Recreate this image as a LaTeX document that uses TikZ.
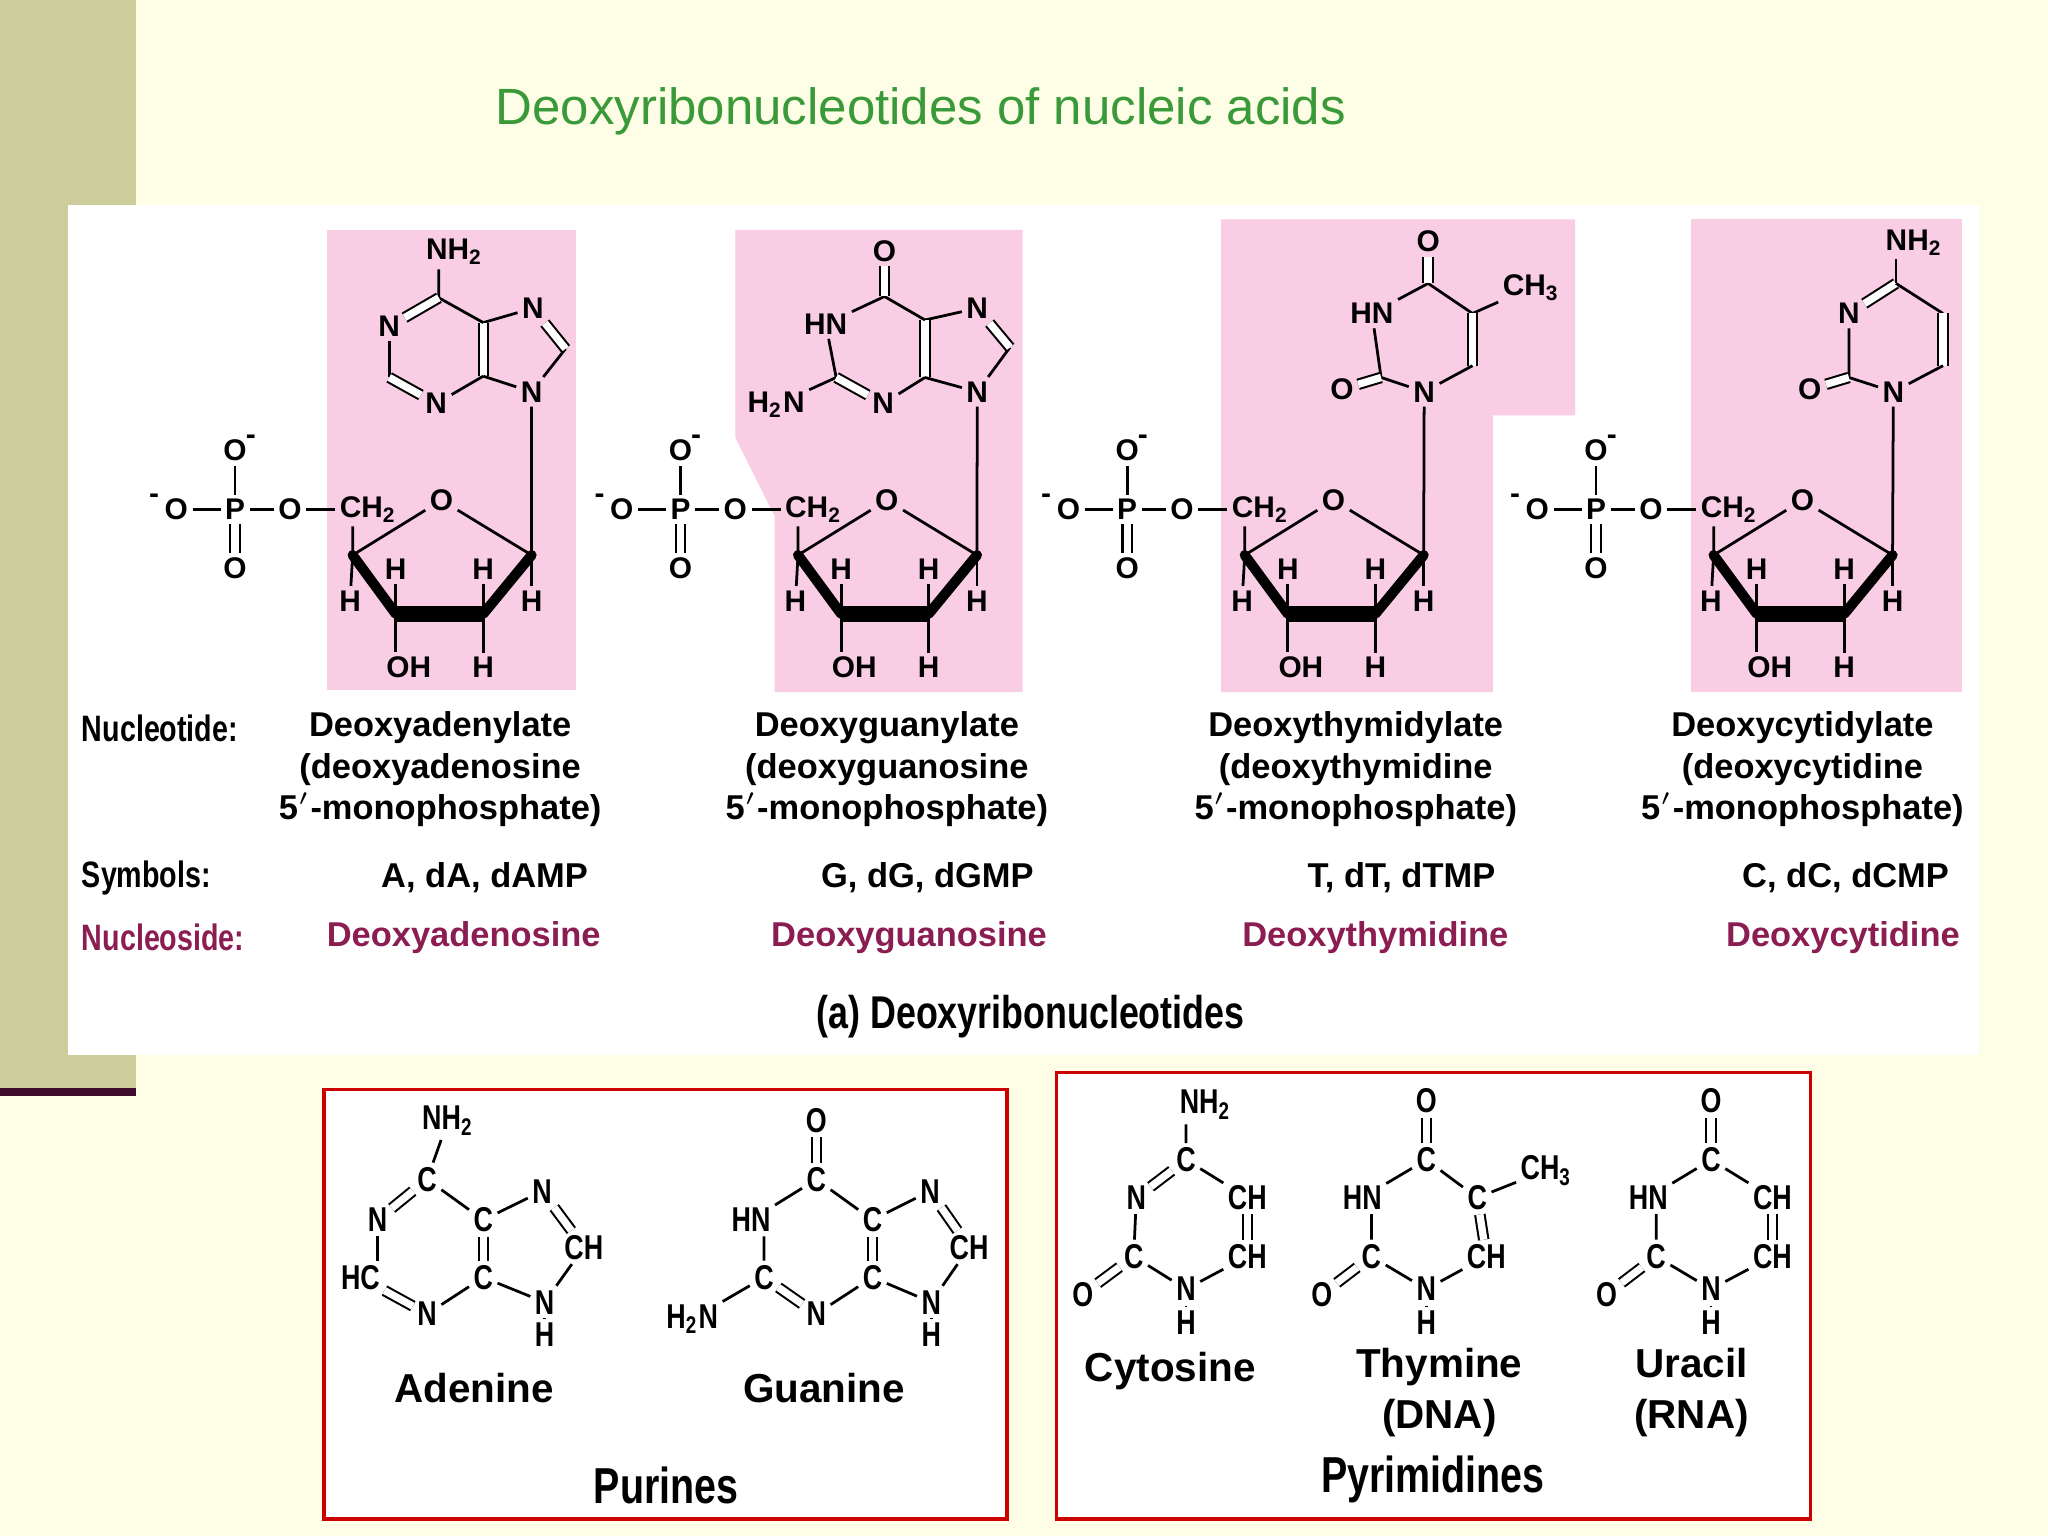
\documentclass[tikz,border=0pt]{standalone}
\usepackage{fontspec}
\setmainfont{Liberation Sans}
\newfontfamily\condfont{Liberation Sans}[FakeStretch=0.78]
\definecolor{cream}{HTML}{FEFDE6}
\definecolor{olive}{HTML}{CDCD9B}
\definecolor{plum}{HTML}{3D0C2B}
\definecolor{pinkbox}{HTML}{F9CDE3}
\definecolor{titlegreen}{HTML}{3A9A3A}
\definecolor{maroon}{HTML}{8C1D52}
\newcommand\atomfont{\fontsize{6.5}{7}\selectfont\bfseries}
\newcommand\labfont{\fontsize{7.5}{9}\selectfont\bfseries}
\tikzset{
  atm/.style={font=\atomfont, inner sep=0.8pt},
  bt/.style={font=\fontsize{7.5}{8}\selectfont\bfseries\condfont, inner sep=0.8pt},
  bond/.style={line width=0.6pt},
  dbl/.style={double, double distance=1.6pt, line width=0.45pt},
  wedge/.style={line width=2.2pt, line cap=round},
  lab/.style={font=\labfont, inner sep=0pt, align=center},
  basename/.style={font=\fontsize{8.8}{11}\selectfont\bfseries, inner sep=0pt, align=center},
  head/.style={font=\fontsize{10}{12}\selectfont\bfseries\condfont, inner sep=0pt}
}
% sugar--phosphate part of one nucleotide
\newcommand\sugarunit[2]{%
\begin{scope}[xshift=#2*0.01cm, name prefix=#1-]
  \node[atm] (Ol) at (135,390) {O};
  \node[atm] (ml) at (118,382) {-};
  \node[atm] (P) at (180,390) {P};
  \node[atm] (Ot) at (180,345) {O};
  \node[atm] (mt) at (192,337) {-};
  \node[atm] (Ob) at (180,435) {O};
  \node[atm] (Oe) at (222,390) {O};
  \node[atm] (ch) at (282,390) {CH\textsubscript{2}};
  \node[atm] (ro) at (338,383) {O};
  \coordinate (c5) at (270,403);
  \coordinate (c4) at (270,425);
  \coordinate (c3) at (303,470);
  \coordinate (c2) at (370,470);
  \coordinate (c1) at (407,425);
  \node[atm] (h4) at (268,460) {H};
  \node[atm] (h3) at (303,436) {H};
  \node[atm] (h2) at (370,436) {H};
  \node[atm] (h1) at (407,460) {H};
  \node[atm] (oh) at (313,511) {OH};
  \node[atm] (hb) at (370,511) {H};
  \draw[bond] (Ol) -- (P) -- (Oe) -- (ch);
  \draw[bond] (P) -- (Ot);
  \draw[dbl] (P) -- (Ob);
  \draw[bond] (c5) -- (c4) -- (ro) -- (c1);
  \draw[wedge] (c4) -- (c3);
  \draw[line width=3.5pt] (c3) -- (c2);
  \draw[wedge] (c2) -- (c1);
  \draw[bond] (c4) -- (h4);
  \draw[bond] (c3) -- (h3);
  \draw[bond] (c3) -- (oh.north -| c3);
  \draw[bond] (c2) -- (h2);
  \draw[bond] (c2) -- (hb);
  \draw[bond] (c1) -- (h1);
\end{scope}}

\begin{document}
\begin{tikzpicture}[x=0.01cm, y=-0.01cm]
\useasboundingbox (0,0) rectangle (1568,1176);
\fill[cream] (0,0) rectangle (1568,1176);
\fill[olive] (0,0) rectangle (104,833);
\fill[plum] (0,833) rectangle (104,839);
\node[text=titlegreen, font=\fontsize{11.1}{13}\selectfont] (title) at (705,85) {Deoxyribonucleotides of nucleic acids};
\fill[white] (52,157) rectangle (1515,808);

% pink base areas
\fill[pinkbox] (250,176) rectangle (441,528);
\fill[pinkbox] (563,176) -- (783,176) -- (783,530) -- (593,530) -- (593,395) -- (563,335) -- cycle;
\fill[pinkbox] (935,168) -- (1206,168) -- (1206,318) -- (1143,318) -- (1143,530) -- (935,530) -- cycle;
\fill[pinkbox] (1295,168) rectangle (1502,530);

% backbones
\sugarunit{dA}{0}
\sugarunit{dG}{341}
\sugarunit{dT}{683}
\sugarunit{dC}{1042}

% adenine
\begin{scope}[name prefix=dA-]
  \node[atm] (N9) at (407,300) {N};
  \coordinate (c8) at (433,267);
  \node[atm] (N7) at (408,236) {N};
  \coordinate (c5b) at (370,247);
  \coordinate (c4b) at (370,288);
  \coordinate (c6) at (336,228);
  \node[atm] (nh) at (348,193) {NH\textsubscript{2}};
  \node[atm] (N1) at (298,250) {N};
  \coordinate (c2b) at (298,289);
  \node[atm] (N3) at (334,309) {N};
  \draw[bond] (c1) -- (N9) -- (c8);
  \draw[dbl] (c8) -- (N7);
  \draw[bond] (N7) -- (c5b);
  \draw[dbl] (c5b) -- (c4b);
  \draw[bond] (c4b) -- (N9);
  \draw[bond] (c5b) -- (c6) -- (nh.south -| c6);
  \draw[dbl] (c6) -- (N1);
  \draw[bond] (N1) -- (c2b);
  \draw[dbl] (c2b) -- (N3);
  \draw[bond] (N3) -- (c4b);
\end{scope}

% guanine
\begin{scope}[xshift=3.41cm, name prefix=dG-]
  \node[atm] (N9) at (407,300) {N};
  \coordinate (c8) at (432,266);
  \node[atm] (N7) at (407,236) {N};
  \coordinate (c5b) at (367,245);
  \coordinate (c4b) at (367,289);
  \coordinate (c6) at (336,227);
  \node[atm] (O6) at (336,192) {O};
  \node[atm] (HN) at (291,248) {HN};
  \coordinate (c2b) at (299,289);
  \node[atm] (nh) at (253,310) {H\textsubscript{2}N};
  \node[atm] (N3) at (335,309) {N};
  \draw[bond] (c1) -- (N9) -- (c8);
  \draw[dbl] (c8) -- (N7);
  \draw[bond] (N7) -- (c5b);
  \draw[dbl] (c5b) -- (c4b);
  \draw[bond] (c4b) -- (N9);
  \draw[bond] (c5b) -- (c6) -- (HN) -- (c2b) -- (nh);
  \draw[dbl] (c6) -- (O6);
  \draw[dbl] (c2b) -- (N3);
  \draw[bond] (N3) -- (c4b);
\end{scope}

% thymine
\begin{scope}[xshift=6.83cm, name prefix=dT-]
  \node[atm] (N1) at (407,300) {N};
  \coordinate (c2b) at (374,289);
  \node[atm] (O2) at (344,298) {O};
  \node[atm] (HN) at (367,240) {HN};
  \coordinate (c4b) at (410,217);
  \node[atm] (O4) at (410,185) {O};
  \coordinate (c5b) at (444,240);
  \node[atm] (me) at (489,220) {CH\textsubscript{3}};
  \coordinate (c6) at (444,280);
  \draw[bond] (c1) -- (N1) -- (c2b) -- (HN) -- (c4b) -- (c5b) -- (me);
  \draw[dbl] (c2b) -- (O2);
  \draw[dbl] (c4b) -- (O4);
  \draw[dbl] (c5b) -- (c6);
  \draw[bond] (c6) -- (N1);
\end{scope}

% cytosine
\begin{scope}[xshift=10.42cm, name prefix=dC-]
  \node[atm] (N1) at (407,300) {N};
  \coordinate (c2b) at (373,289);
  \node[atm] (O2) at (343,298) {O};
  \node[atm] (N3) at (373,240) {N};
  \coordinate (c4b) at (409,217);
  \node[atm] (nh) at (423,186) {NH\textsubscript{2}};
  \coordinate (nhb) at (409,198);
  \coordinate (c5b) at (445,240);
  \coordinate (c6) at (445,280);
  \draw[bond] (c1) -- (N1) -- (c2b) -- (N3);
  \draw[dbl] (N3) -- (c4b);
  \draw[dbl] (c2b) -- (O2);
  \draw[bond] (c4b) -- (nhb);
  \draw[bond] (c4b) -- (c5b);
  \draw[dbl] (c5b) -- (c6);
  \draw[bond] (c6) -- (N1);
\end{scope}

% labels
\node[head, anchor=west] (nt) at (62,558) {\fontsize{8}{9}\selectfont Nucleotide:};
\node[head, anchor=west] (sy) at (62,672) {\fontsize{8}{9}\selectfont Symbols:};
\node[head, anchor=west, text=maroon] (ns) at (62,718) {\fontsize{8}{9}\selectfont Nucleoside:};
\node[lab] (ntA) at (337,589) {Deoxyadenylate\\(deoxyadenosine\\5$'$-monophosphate)};
\node[lab] (ntG) at (679,589) {Deoxyguanylate\\(deoxyguanosine\\5$'$-monophosphate)};
\node[lab] (ntT) at (1038,589) {Deoxythymidylate\\(deoxythymidine\\5$'$-monophosphate)};
\node[lab] (ntC) at (1380,589) {Deoxycytidylate\\(deoxycytidine\\5$'$-monophosphate)};
\node[lab] (syA) at (371,672) {A,\ dA,\ dAMP};
\node[lab] (syG) at (710,672) {G,\ dG,\ dGMP};
\node[lab] (syT) at (1073,672) {T,\ dT,\ dTMP};
\node[lab] (syC) at (1413,672) {C,\ dC,\ dCMP};
\node[lab, text=maroon] (nsA) at (355,718) {Deoxyadenosine};
\node[lab, text=maroon] (nsG) at (696,718) {Deoxyguanosine};
\node[lab, text=maroon] (nsT) at (1053,718) {Deoxythymidine};
\node[lab, text=maroon] (nsC) at (1411,718) {Deoxycytidine};
\node[head] (cap) at (789,778) {(a) Deoxyribonucleotides};

% purine and pyrimidine boxes
\draw[red!80!black, fill=white, line width=0.7pt] (248,834) rectangle (771,1163);
\draw[red!80!black, fill=white, line width=0.7pt] (809,821) rectangle (1386,1163);

% adenine base
\begin{scope}[name prefix=A-]
  \node[bt] (nh) at (343,858) {NH\textsubscript{2}};
  \node[bt] (C6) at (327,903) {C};
  \node[bt] (N1) at (289,934) {N};
  \node[bt] (C2) at (276,978) {HC};
  \node[bt] (N3) at (327,1006) {N};
  \node[bt] (C4) at (370,978) {C};
  \node[bt] (C5) at (370,934) {C};
  \node[bt] (N7) at (415,912) {N};
  \node[bt] (C8) at (447,955) {CH};
  \node[bt] (N9) at (417,997) {N};
  \node[bt] (H9) at (417,1022) {H};
  \draw[bond] (nh) -- (C6) -- (C5) -- (N7);
  \draw[dbl] (C6) -- (N1);
  \draw[bond] (N1) -- (C2.north -| N1);
  \draw[dbl] (C2) -- (N3);
  \draw[bond] (N3) -- (C4) -- (N9) -- (C8);
  \draw[dbl] (C4) -- (C5);
  \draw[dbl] (N7) -- (C8);
  \draw[bond] (N9) -- (H9);
  \node[basename] (name) at (363,1063) {Adenine};
\end{scope}

% guanine base
\begin{scope}[name prefix=G-]
  \node[bt] (O6) at (625,858) {O};
  \node[bt] (C6) at (625,903) {C};
  \node[bt] (N1) at (575,934) {HN};
  \node[bt] (C2) at (585,978) {C};
  \node[bt] (nh) at (530,1010) {H\textsubscript{2}N};
  \node[bt] (N3) at (625,1006) {N};
  \node[bt] (C4) at (668,978) {C};
  \node[bt] (C5) at (668,934) {C};
  \node[bt] (N7) at (712,912) {N};
  \node[bt] (C8) at (742,955) {CH};
  \node[bt] (N9) at (713,997) {N};
  \node[bt] (H9) at (713,1022) {H};
  \draw[dbl] (O6) -- (C6);
  \draw[bond] (C6) -- (N1);
  \draw[bond] (N1.south -| C2) -- (C2) -- (nh);
  \draw[dbl] (C2) -- (N3);
  \draw[bond] (N3) -- (C4) -- (N9) -- (C8);
  \draw[dbl] (C4) -- (C5);
  \draw[bond] (C6) -- (C5) -- (N7);
  \draw[dbl] (N7) -- (C8);
  \draw[bond] (N9) -- (H9);
  \node[basename] (name) at (631,1063) {Guanine};
\end{scope}
\node[basename, font=\fontsize{11}{13}\selectfont\bfseries\condfont] (pur) at (510,1137) {Purines};

% cytosine base
\begin{scope}[name prefix=C-]
  \node[bt] (nh) at (923,846) {NH\textsubscript{2}};
  \node[bt] (C4) at (908,888) {C};
  \node[bt] (N3) at (870,917) {N};
  \node[bt] (C2) at (868,962) {C};
  \node[bt] (O2) at (829,991) {O};
  \node[bt] (N1) at (908,987) {N};
  \node[bt] (H1) at (908,1013) {H};
  \node[bt] (C6) at (955,962) {CH};
  \node[bt] (C5) at (955,917) {CH};
  \draw[bond] (nh.south -| C4) -- (C4) -- (C5);
  \draw[dbl] (C4) -- (N3);
  \draw[bond] (N3) -- (C2) -- (N1) -- (C6);
  \draw[dbl] (C2) -- (O2);
  \draw[dbl] (C5) -- (C6);
  \draw[bond] (N1) -- (H1);
  \node[basename] (name) at (896,1050) {Cytosine};
\end{scope}

% thymine base
\begin{scope}[name prefix=T-]
  \node[bt] (O4) at (1092,843) {O};
  \node[bt] (C4) at (1092,888) {C};
  \node[bt] (N3) at (1043,917) {HN};
  \node[bt] (C2) at (1050,962) {C};
  \node[bt] (O2) at (1012,991) {O};
  \node[bt] (N1) at (1092,987) {N};
  \node[bt] (H1) at (1092,1013) {H};
  \node[bt] (C6) at (1138,962) {CH};
  \node[bt] (C5) at (1131,917) {C};
  \node[bt] (me) at (1184,896) {CH\textsubscript{3}};
  \draw[dbl] (O4) -- (C4);
  \draw[bond] (C4) -- (N3);
  \draw[bond] (N3.south -| C2) -- (C2) -- (N1) -- (C6);
  \draw[dbl] (C2) -- (O2);
  \draw[bond] (C4) -- (C5) -- (me);
  \draw[dbl] (C5) -- (C6);
  \draw[bond] (N1) -- (H1);
  \node[basename] (name) at (1102,1066) {Thymine\\(DNA)};
\end{scope}

% uracil base
\begin{scope}[name prefix=U-]
  \node[bt] (O4) at (1310,843) {O};
  \node[bt] (C4) at (1310,888) {C};
  \node[bt] (N3) at (1262,917) {HN};
  \node[bt] (C2) at (1268,962) {C};
  \node[bt] (O2) at (1230,991) {O};
  \node[bt] (N1) at (1310,987) {N};
  \node[bt] (H1) at (1310,1013) {H};
  \node[bt] (C6) at (1357,962) {CH};
  \node[bt] (C5) at (1357,917) {CH};
  \draw[dbl] (O4) -- (C4);
  \draw[bond] (C4) -- (N3);
  \draw[bond] (N3.south -| C2) -- (C2) -- (N1) -- (C6);
  \draw[dbl] (C2) -- (O2);
  \draw[bond] (C4) -- (C5);
  \draw[dbl] (C5) -- (C6);
  \draw[bond] (N1) -- (H1);
  \node[basename] (name) at (1295,1066) {Uracil\\(RNA)};
\end{scope}
\node[basename, font=\fontsize{11}{13}\selectfont\bfseries\condfont] (pyr) at (1097,1133) {Pyrimidines};
\end{tikzpicture}
\end{document}
